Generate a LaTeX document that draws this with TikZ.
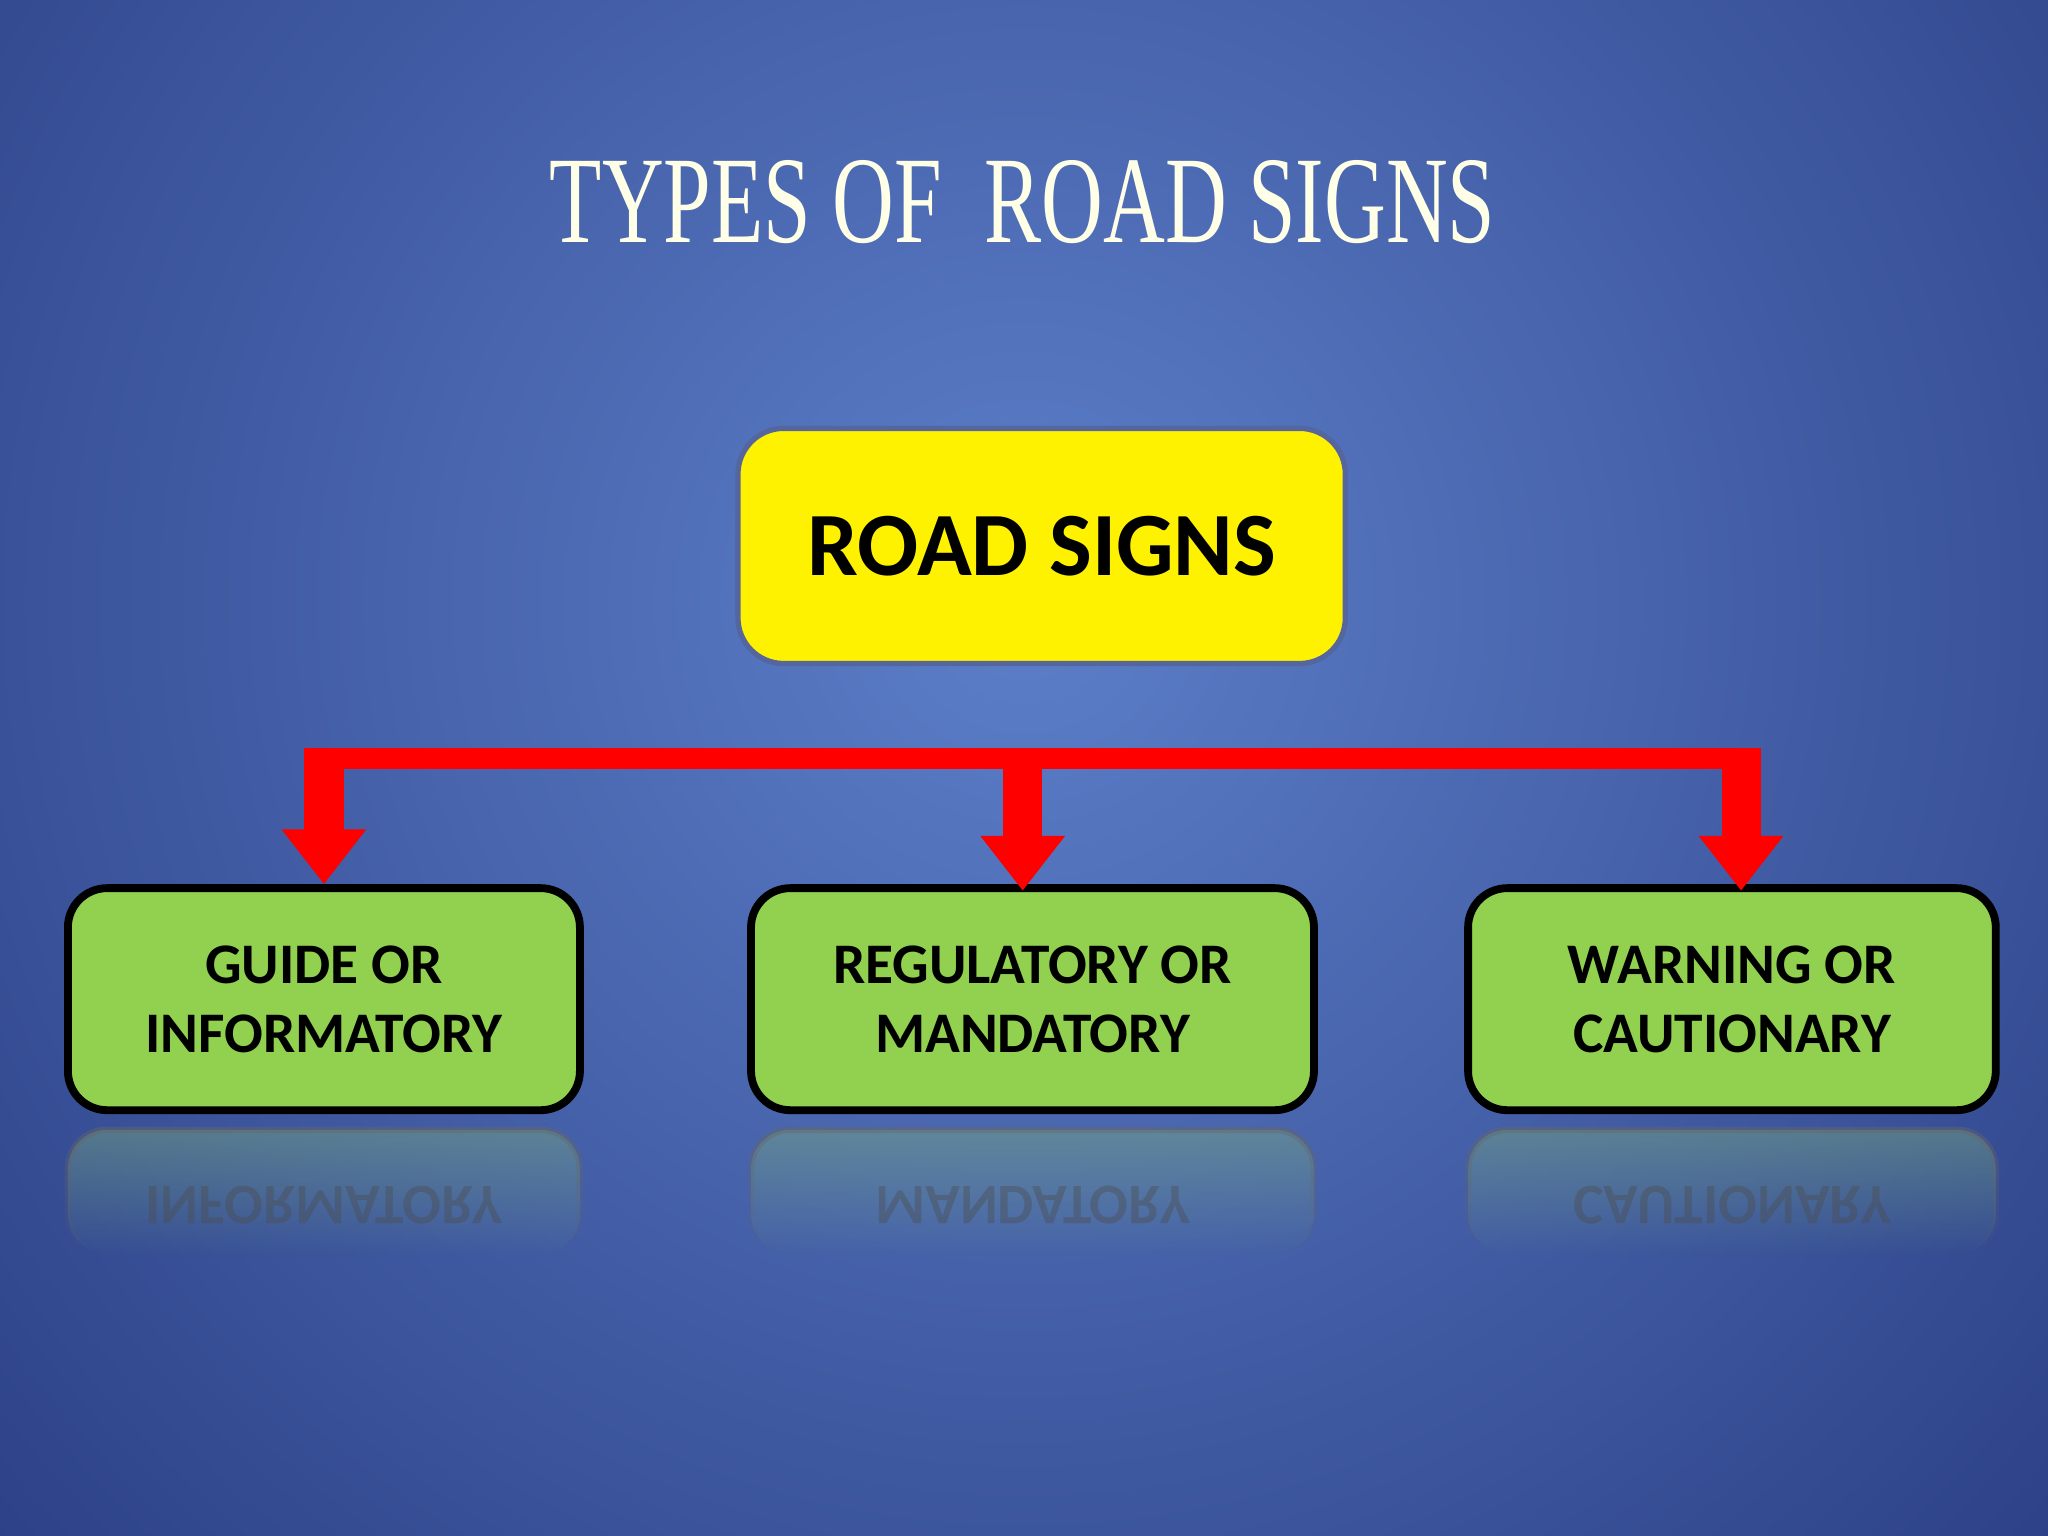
\documentclass[tikz,border=0pt]{standalone}
\usepackage{fontspec}
\setmainfont{Liberation Serif}
\newfontfamily\calfont{Carlito}
\usetikzlibrary{arrows.meta,fadings}
\definecolor{bgin}{HTML}{5C7FC9}
\definecolor{bgout}{HTML}{2B3F85}
\definecolor{gfill}{HTML}{92D050}
\tikzset{
  child/.style={draw=black,line width=0.6mm,fill=gfill,rounded corners=0.3cm,
    minimum height=1.7cm,align=center,font=\calfont\bfseries\fontsize{12.5}{15}\selectfont,inner sep=0pt},
  refl/.style={draw=black!60,line width=0.5mm,fill=gfill!60!bgin,rounded corners=0.3cm,opacity=0.45,
    path fading=south},
  redline/.style={draw=red,line width=1.6mm},
  redarrow/.style={draw=red,line width=3mm,-{Triangle[width=6.2mm,length=4.2mm]}}
}
\begin{document}
\begin{tikzpicture}
\useasboundingbox (0,0) rectangle (15.68,-11.76);
\clip (0,0) rectangle (15.68,-11.76);
\fill[bgout] (0,0) rectangle (15.68,-11.76);
\shade[inner color=bgin,outer color=bgout] (7.84,-4.6) circle (11cm);
\node[text=white!90!yellow,font=\fontsize{27}{30}\selectfont] (title) at (7.83,-1.55) {\scalebox{0.69}[1]{TYPES OF\ \ ROAD SIGNS}};
\node[draw=bgout!80,line width=0.4mm,fill=yellow,rounded corners=0.35cm,minimum width=4.65cm,minimum height=1.8cm,
  font=\calfont\bfseries\fontsize{19.7}{24}\selectfont] (root) at (7.975,-4.18) {ROAD SIGNS};
\node[child,minimum width=3.92cm] (c1) at (2.48,-7.65) {GUIDE OR\\INFORMATORY};
\node[child,minimum width=4.31cm] (c2) at (7.905,-7.65) {REGULATORY OR\\MANDATORY};
\node[child,minimum width=4.04cm] (c3) at (13.26,-7.65) {WARNING OR\\CAUTIONARY};
% reflections
\foreach \n/\w/\t in {c1/3.92/INFORMATORY,c2/4.31/MANDATORY,c3/4.04/CAUTIONARY}{
  \path[refl] ([xshift=-\w cm/2,yshift=-0.12cm]\n.south) rectangle ++(\w,-0.95);
  \node[opacity=0.4,text=black!70,font=\calfont\bfseries\fontsize{12.5}{15}\selectfont,yscale=-1]
    at ([yshift=-0.7cm]\n.south) {\t};
}
\coordinate (b1) at (2.48,-5.73);
\coordinate (b2) at (7.83,-5.73);
\coordinate (b3) at (13.33,-5.73);
\draw[redline] (2.33,-5.81) -- (13.48,-5.81);
\draw[redarrow] (b1) -- (c1.north);
\draw[redarrow] (b2) -- (7.83,-6.82);
\draw[redarrow] (b3) -- (13.33,-6.82);
\end{tikzpicture}
\end{document}
